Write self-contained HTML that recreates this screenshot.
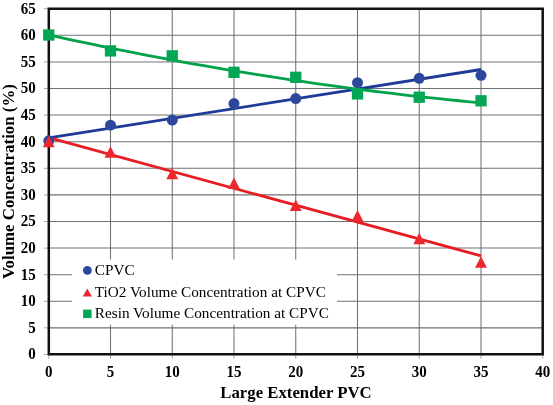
<!DOCTYPE html>
<html><head><meta charset="utf-8"><style>
html,body{margin:0;padding:0;background:#fff;width:553px;height:405px;overflow:hidden}
svg{display:block}
</style></head><body>
<svg width="553" height="405" viewBox="0 0 553 405">
<rect width="553" height="405" fill="#fff"/>
<path d="M110.50 8.70V354.48M172.25 8.70V354.48M234.00 8.70V354.48M295.75 8.70V354.48M357.50 8.70V354.48M419.25 8.70V354.48M481.00 8.70V354.48M48.75 327.88H542.75M48.75 301.28H542.75M48.75 274.68H542.75M48.75 248.09H542.75M48.75 221.49H542.75M48.75 194.89H542.75M48.75 168.29H542.75M48.75 141.69H542.75M48.75 115.09H542.75M48.75 88.50H542.75M48.75 61.90H542.75M48.75 35.30H542.75" stroke="#6f7274" stroke-width="1.05" fill="none"/>
<path d="M43.75 354.48H48.75M43.75 327.88H48.75M43.75 301.28H48.75M43.75 274.68H48.75M43.75 248.09H48.75M43.75 221.49H48.75M43.75 194.89H48.75M43.75 168.29H48.75M43.75 141.69H48.75M43.75 115.09H48.75M43.75 88.50H48.75M43.75 61.90H48.75M43.75 35.30H48.75M43.75 8.70H48.75M48.75 354.48V358.78M110.50 354.48V358.78M172.25 354.48V358.78M234.00 354.48V358.78M295.75 354.48V358.78M357.50 354.48V358.78M419.25 354.48V358.78M481.00 354.48V358.78M542.75 354.48V358.78" stroke="#aaa" stroke-width="1" fill="none"/>
<rect x="72" y="259.6" width="265" height="65.2" fill="#fff"/>
<path d="M48.8 8.65H542.7V354.25H48.8Z" stroke="#111" stroke-width="2.5" fill="none"/>
<path d="M48.75 137.8L481 69.5" stroke="#1d3b97" stroke-width="2.8" fill="none"/>
<path d="M48.75 137.7L481 255.9" stroke="#e81d23" stroke-width="2.8" fill="none"/>
<polyline points="48.75,34.97 59.83,37.40 70.92,39.80 82.00,42.16 93.08,44.48 104.17,46.77 115.25,49.03 126.33,51.24 137.42,53.42 148.50,55.56 159.58,57.67 170.67,59.74 181.75,61.77 192.83,63.77 203.92,65.73 215.00,67.65 226.08,69.54 237.17,71.39 248.25,73.21 259.33,74.98 270.42,76.72 281.50,78.43 292.58,80.10 303.67,81.73 314.75,83.32 325.83,84.88 336.92,86.41 348.00,87.89 359.08,89.34 370.17,90.75 381.25,92.13 392.33,93.47 403.42,94.77 414.50,96.04 425.58,97.27 436.67,98.46 447.75,99.62 458.83,100.74 469.92,101.83 481.00,102.88" stroke="#01a24a" stroke-width="2.8" fill="none" stroke-linejoin="round"/>
<circle cx="48.75" cy="140.80" r="5.5" fill="#2c479b"/>
<circle cx="110.50" cy="125.20" r="5.5" fill="#2c479b"/>
<circle cx="172.25" cy="120.05" r="5.5" fill="#2c479b"/>
<circle cx="234.00" cy="103.60" r="5.5" fill="#2c479b"/>
<circle cx="295.75" cy="98.60" r="5.5" fill="#2c479b"/>
<circle cx="357.50" cy="82.70" r="5.5" fill="#2c479b"/>
<circle cx="419.25" cy="78.35" r="5.5" fill="#2c479b"/>
<circle cx="481.00" cy="75.30" r="5.5" fill="#2c479b"/>
<path d="M48.75 135.85L54.70 147.35H42.80Z" fill="#eb282d"/>
<path d="M110.50 146.25L116.45 157.75H104.55Z" fill="#eb282d"/>
<path d="M172.25 167.85L178.20 179.35H166.30Z" fill="#eb282d"/>
<path d="M234.00 177.45L239.95 188.95H228.05Z" fill="#eb282d"/>
<path d="M295.75 199.45L301.70 210.95H289.80Z" fill="#eb282d"/>
<path d="M357.50 209.95L363.45 221.45H351.55Z" fill="#eb282d"/>
<path d="M419.25 232.65L425.20 244.15H413.30Z" fill="#eb282d"/>
<path d="M481.00 256.35L486.95 267.85H475.05Z" fill="#eb282d"/>
<rect x="43.10" y="29.35" width="11.3" height="11.3" fill="#03a654"/>
<rect x="104.85" y="45.25" width="11.3" height="11.3" fill="#03a654"/>
<rect x="166.60" y="50.20" width="11.3" height="11.3" fill="#03a654"/>
<rect x="228.35" y="66.65" width="11.3" height="11.3" fill="#03a654"/>
<rect x="290.10" y="71.65" width="11.3" height="11.3" fill="#03a654"/>
<rect x="351.85" y="88.25" width="11.3" height="11.3" fill="#03a654"/>
<rect x="413.60" y="91.55" width="11.3" height="11.3" fill="#03a654"/>
<rect x="475.35" y="95.15" width="11.3" height="11.3" fill="#03a654"/>
<g font-family="Liberation Serif, serif" font-weight="bold" font-size="15" fill="#000">
<text transform="translate(35.8 359.38) scale(1 1.07)" text-anchor="end">0</text>
<text transform="translate(35.8 332.78) scale(1 1.07)" text-anchor="end">5</text>
<text transform="translate(35.8 306.18) scale(1 1.07)" text-anchor="end">10</text>
<text transform="translate(35.8 279.58) scale(1 1.07)" text-anchor="end">15</text>
<text transform="translate(35.8 252.99) scale(1 1.07)" text-anchor="end">20</text>
<text transform="translate(35.8 226.39) scale(1 1.07)" text-anchor="end">25</text>
<text transform="translate(35.8 199.79) scale(1 1.07)" text-anchor="end">30</text>
<text transform="translate(35.8 173.19) scale(1 1.07)" text-anchor="end">35</text>
<text transform="translate(35.8 146.59) scale(1 1.07)" text-anchor="end">40</text>
<text transform="translate(35.8 119.99) scale(1 1.07)" text-anchor="end">45</text>
<text transform="translate(35.8 93.40) scale(1 1.07)" text-anchor="end">50</text>
<text transform="translate(35.8 66.80) scale(1 1.07)" text-anchor="end">55</text>
<text transform="translate(35.8 40.20) scale(1 1.07)" text-anchor="end">60</text>
<text transform="translate(35.8 13.60) scale(1 1.07)" text-anchor="end">65</text>
<text transform="translate(48.75 376.8) scale(1 1.07)" text-anchor="middle">0</text>
<text transform="translate(110.50 376.8) scale(1 1.07)" text-anchor="middle">5</text>
<text transform="translate(172.25 376.8) scale(1 1.07)" text-anchor="middle">10</text>
<text transform="translate(234.00 376.8) scale(1 1.07)" text-anchor="middle">15</text>
<text transform="translate(295.75 376.8) scale(1 1.07)" text-anchor="middle">20</text>
<text transform="translate(357.50 376.8) scale(1 1.07)" text-anchor="middle">25</text>
<text transform="translate(419.25 376.8) scale(1 1.07)" text-anchor="middle">30</text>
<text transform="translate(481.00 376.8) scale(1 1.07)" text-anchor="middle">35</text>
<text transform="translate(542.75 376.8) scale(1 1.07)" text-anchor="middle">40</text>
<text x="296" y="398.2" text-anchor="middle" font-size="16.75">Large Extender PVC</text>
<text transform="translate(14.3 181.6) rotate(-90)" text-anchor="middle" font-size="16.85">Volume Concentration (%)</text>
</g>
<circle cx="87.4" cy="270.4" r="4.4" fill="#2c479b"/>
<path d="M87.3 288.4L91.9 296.5H82.7Z" fill="#eb282d"/>
<rect x="83.1" y="309.6" width="8.5" height="8.5" fill="#03a654"/>
<g font-family="Liberation Serif, serif" font-size="15.25" fill="#000">
<text x="94.8" y="274.8">CPVC</text>
<text x="94.8" y="296.6">TiO2 Volume Concentration at CPVC</text>
<text x="94.8" y="318.3">Resin Volume Concentration at CPVC</text>
</g>
</svg>
</body></html>
